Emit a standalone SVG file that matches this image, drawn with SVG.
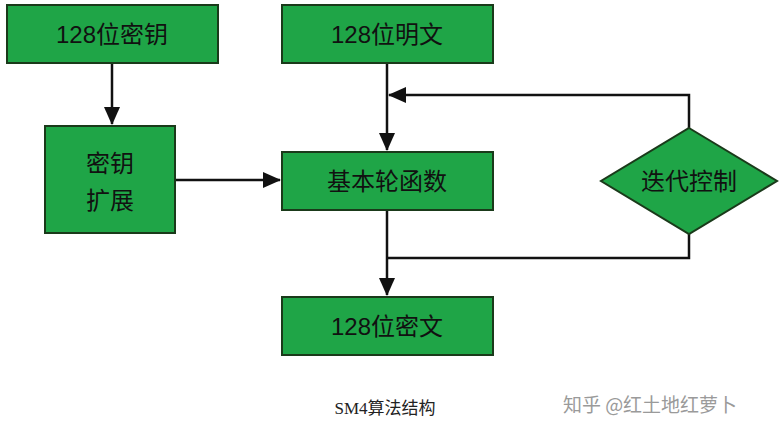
<svg xmlns="http://www.w3.org/2000/svg" width="780" height="433" viewBox="0 0 780 433">
<style>
.n{fill:#1fa547;stroke:#1a3a1a;stroke-width:2}
.t{font-family:"Liberation Sans","Noto Sans CJK SC",sans-serif;font-size:24px;fill:#111;text-anchor:middle;dominant-baseline:central}
.c{fill:none;stroke:#111;stroke-width:2.5}
</style>
<defs><marker id="a" markerWidth="8" markerHeight="8" refX="7" refY="4" orient="auto" markerUnits="userSpaceOnUse" viewBox="0 0 8 8"><path d="M0,0L8,4L0,8z" fill="#111"/></marker>
<marker id="b" markerWidth="18" markerHeight="16" refX="17" refY="8" orient="auto" markerUnits="userSpaceOnUse"><path d="M0,0L18,8L0,16z" fill="#111"/></marker></defs>
<rect width="780" height="433" fill="#fff"/>
<g id="connectors">
<path class="c" d="M112,63V124" marker-end="url(#b)"/>
<path class="c" d="M387,63V150" marker-end="url(#b)"/>
<path class="c" d="M689,128V95H389" marker-end="url(#b)"/>
<path class="c" d="M175,180H280" marker-end="url(#b)"/>
<path class="c" d="M387,210V295" marker-end="url(#b)"/>
<path class="c" d="M689,234V258H387"/>
</g>
<g id="key"><rect class="n" x="7" y="5" width="211" height="58"/><text class="t" x="112" y="34">128位密钥</text></g>
<g id="plain"><rect class="n" x="282" y="5" width="211" height="58"/><text class="t" x="387" y="34">128位明文</text></g>
<g id="expand"><rect class="n" x="45" y="126" width="130" height="107"/><text class="t" x="110" y="163">密钥</text><text class="t" x="110" y="200">扩展</text></g>
<g id="round"><rect class="n" x="282" y="152" width="211" height="58"/><text class="t" x="387" y="181">基本轮函数</text></g>
<g id="cipher"><rect class="n" x="282" y="297" width="211" height="58"/><text class="t" x="387" y="326">128位密文</text></g>
<g id="iter"><polygon class="n" points="689,128 777,181 689,234 601,181"/><text class="t" x="689" y="181">迭代控制</text></g>
<text x="385" y="414" font-family="'Liberation Serif','Noto Sans CJK SC',serif" font-size="17" text-anchor="middle" fill="#222">SM4算法结构</text>
<text x="650" y="412" font-family="'Noto Sans CJK SC',sans-serif" font-size="19" text-anchor="middle" fill="#9a9a9a">知乎 @红土地红萝卜</text>
</svg>
